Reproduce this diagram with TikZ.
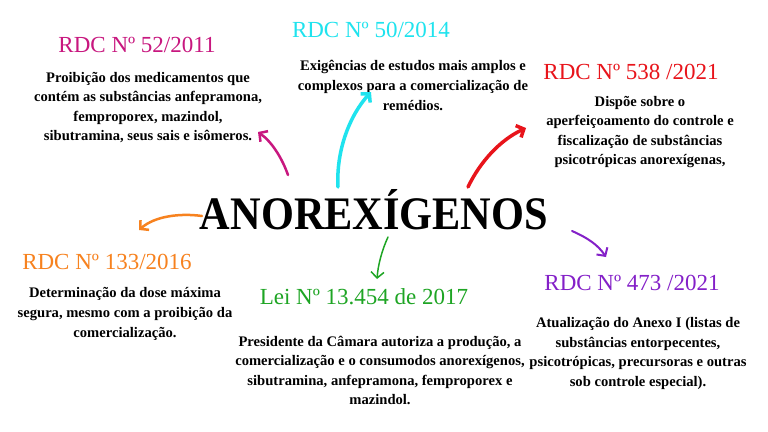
\documentclass[tikz,border=0pt]{standalone}
\usepackage{fontspec}
\setmainfont{Liberation Serif}
\usetikzlibrary{arrows.meta}
\definecolor{cmag}{HTML}{C8177F}
\definecolor{ccyan}{HTML}{1FE3EE}
\definecolor{cred}{HTML}{E8141B}
\definecolor{corange}{HTML}{F7821F}
\definecolor{cgreen}{HTML}{1EA524}
\definecolor{cpurple}{HTML}{8420C8}
\tikzset{
  head/.style={inner sep=0pt, font=\fontsize{23}{26}\selectfont},
  body/.style={inner sep=0pt, align=center, font=\bfseries\fontsize{14.6}{19.6}\selectfont},
  conn/.style={-{Straight Barb[length=6pt,width=13pt]}, line cap=round},
}
\begin{document}
\begin{tikzpicture}[x=1pt,y=-1pt]
\fill[white] (0,0) rectangle (768,431);
\useasboundingbox (0,0) rectangle (768,431);

\node[inner sep=0pt] (title) at (374,210) {\resizebox{348pt}{40pt}{\bfseries ANOREXÍGENOS}};

\node[head, text=cmag] (h52) at (137,45) {RDC Nº 52/2011};
\node[body] (b52) at (148,107.5) {Proibição dos medicamentos que\\contém as substâncias anfepramona,\\femproporex, mazindol,\\sibutramina, seus sais e isômeros.};

\node[head, text=ccyan] (h50) at (371,30) {RDC Nº 50/2014};
\node[body] (b50) at (413,85.5) {Exigências de estudos mais amplos e\\complexos para a comercialização de\\remédios.};

\node[head, text=cred] (h538) at (631,72) {RDC Nº 538 /2021};
\node[body] (b538) at (640,132) {Dispõe sobre o\\aperfeiçoamento do controle e\\fiscalização de substâncias\\psicotrópicas anorexígenas,};

\node[head, text=corange] (h133) at (107,262) {RDC Nº 133/2016};
\node[body] (b133) at (125,314) {Determinação da dose máxima\\segura, mesmo com a proibição da\\comercialização.};

\node[head, text=cgreen] (hlei) at (364,297) {Lei Nº 13.454 de 2017};
\node[body] (blei) at (380,370.5) {Presidente da Câmara autoriza a produção, a\\comercialização e o consumodos anorexígenos,\\sibutramina, anfepramona, femproporex e\\mazindol.};

\node[head, text=cpurple] (h473) at (632,283) {RDC Nº 473 /2021};
\node[body] (b473) at (638,353.5) {Atualização do Anexo I (listas de\\substâncias entorpecentes,\\psicotrópicas, precursoras e outras\\sob controle especial).};

\coordinate (s52) at (288,175);  \coordinate (t52) at (258,132);
\coordinate (s50) at (338,187);  \coordinate (t50) at (371,92);
\coordinate (s538) at (468,187); \coordinate (t538) at (526,128);
\coordinate (s133) at (202,216); \coordinate (t133) at (139,230);
\coordinate (slei) at (388,237); \coordinate (tlei) at (377,279);
\coordinate (s473) at (572,231); \coordinate (t473) at (606,257);

\draw[conn, cmag, line width=2.5pt] (s52) .. controls (282,158) and (272,142) .. (t52);
\draw[conn, ccyan, line width=3.5pt] (s50) .. controls (336,150) and (350,115) .. (t50);
\draw[conn, cred, line width=3.5pt] (s538) .. controls (480,162) and (500,140) .. (t538);
\draw[conn, corange, line width=2.5pt] (s133) .. controls (180,213) and (155,216) .. (t133);
\draw[conn, cgreen, line width=1.5pt] (slei) .. controls (382,250) and (378,265) .. (tlei);
\draw[conn, cpurple, line width=2pt] (s473) .. controls (588,238) and (598,245) .. (t473);
\end{tikzpicture}
\end{document}
